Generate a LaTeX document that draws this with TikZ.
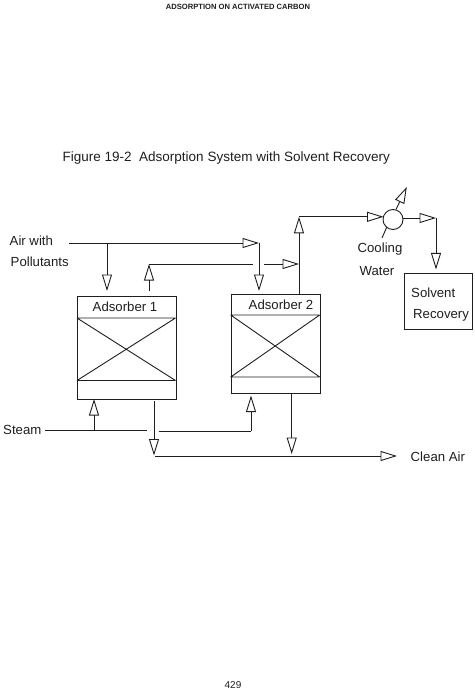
\documentclass[tikz,border=0pt]{standalone}
\usepackage{fontspec}
\setmainfont{Liberation Sans}
\usetikzlibrary{arrows.meta,calc}
\definecolor{ink}{HTML}{1E1E1E}
\tikzset{
  pipe/.style={draw=ink,line width=0.9pt},
  flow/.style={pipe,-{Triangle[open,length=16.5pt,width=10pt,line width=0.9pt]},shorten >=0pt},
  label/.style={text=ink,font=\fontsize{13.2}{15}\selectfont,inner sep=0pt},
  vessel/.style={draw=ink,line width=1pt,inner sep=0pt}
}
\begin{document}
\begin{tikzpicture}[x=1pt,y=-1pt]
\useasboundingbox (0,0) rectangle (474,692);
% texts
\node[text=ink,font=\bfseries\fontsize{7.6}{9}\selectfont,inner sep=0pt] (hdr) at (238,6.5) {ADSORPTION ON ACTIVATED CARBON};
\node[label,font=\fontsize{13.5}{16}\selectfont,anchor=west] (title) at (62.5,158) {Figure 19-2\ \ Adsorption System with Solvent Recovery};
\node[text=ink,font=\fontsize{10}{12}\selectfont,inner sep=0pt] (pg) at (233,685) {429};
\node[label,anchor=west] (air) at (9.5,241) {Air with};
\node[label,anchor=west] (pol) at (10.5,261.5) {Pollutants};
\node[label,anchor=west] (steam) at (3,430) {Steam};
\node[label,anchor=west] (clean) at (410.5,456.5) {Clean Air};
\node[label] (cool) at (380,249.5) {Cooling};
\node[label] (water) at (377,271) {Water};
% vessels
\node[vessel,minimum width=98.5pt,minimum height=103.5pt,anchor=north west] (A1) at (77,295.5) {};
\node[vessel,minimum width=89pt,minimum height=99pt,anchor=north west] (A2) at (230.7,294) {};
\node[label] (a1t) at (125,306.5) {Adsorber 1};
\node[label] (a2t) at (281,305) {Adsorber 2};
\node[vessel,minimum width=67.7pt,minimum height=55.7pt,anchor=north west] (SR) at (404,273) {};
\node[label,anchor=west] (s1) at (411,292.5) {Solvent};
\node[label,anchor=west] (s2) at (413,315.5) {Recovery};
\node[draw=ink,line width=0.9pt,circle,minimum size=20pt,inner sep=0pt] (cond) at (393,219.5) {};
% bed coordinates
\coordinate (a1tl) at (77,318); \coordinate (a1tr) at (175.5,318);
\coordinate (a1bl) at (77,380.5); \coordinate (a1br) at (175.5,380.5);
\coordinate (a2tl) at (230.7,315); \coordinate (a2tr) at (319.7,315);
\coordinate (a2bl) at (230.7,377); \coordinate (a2br) at (319.7,377);
\draw[pipe] (a1tl) -- (a1tr) (a1bl) -- (a1br) (a1tl) -- (a1br) (a1tr) -- (a1bl);
\draw[pipe] (a2tl) -- (a2tr) (a2bl) -- (a2br) (a2tl) -- (a2br) (a2tr) -- (a2bl);
% air feed
\coordinate (airS) at (69,243); \coordinate (airB) at (107,243); \coordinate (airA1) at (107,291);
\coordinate (airE) at (259,243); \coordinate (airA2) at (259,291);
\draw[flow] (airS) -- (airE);
\draw[flow] (airE) -- (airA2);
\draw[flow] (airB) -- (airA1);
% return to second line
\coordinate (r0) at (149,291); \coordinate (r1) at (149,264); \coordinate (r2) at (253,264);
\coordinate (r3) at (264,264); \coordinate (r4) at (299,264);
\draw[flow] (r0) -- (r1);
\draw[pipe] (r1) -- (r2);
\draw[flow] (r3) -- (r4);
% outlet of adsorber 2 to condenser
\coordinate (o0) at (299,294); \coordinate (o1) at (299,216.8); \coordinate (o2) at (383.5,216.8);
\draw[flow] (o0) -- (o1);
\draw[flow] (o1) -- (o2);
% condenser
\coordinate (v0) at (396,209.5); \coordinate (v1) at (406.8,187);
\draw[flow] (v0) -- (v1);
\coordinate (cw0) at (386.8,227); \coordinate (cw1) at (382,238);
\draw[pipe] (cw0) -- (cw1);
\coordinate (d0) at (403,218); \coordinate (d1) at (436,218); \coordinate (d2) at (436,269.5);
\draw[flow] (d0) -- (d1);
\draw[flow] (d1) -- (d2);
% steam
\coordinate (st0) at (45,430); \coordinate (st1) at (147,430); \coordinate (stB) at (94,430); \coordinate (stA1) at (94,399);
\coordinate (st2) at (159,431); \coordinate (st3) at (251,431); \coordinate (stA2) at (251,395.5);
\draw[pipe] (st0) -- (st1);
\draw[flow] (stB) -- (stA1);
\draw[pipe] (st2) -- (st3);
\draw[flow] (st3) -- (stA2);
% clean air
\coordinate (c0) at (154,401); \coordinate (c1) at (154,455.5); \coordinate (c2) at (155,456); \coordinate (c3) at (397,456);
\coordinate (c4) at (291.7,393); \coordinate (c5) at (291.7,454);
\draw[flow] (c0) -- (c1);
\draw[flow] (c2) -- (c3);
\draw[flow] (c4) -- (c5);
\end{tikzpicture}
\end{document}
